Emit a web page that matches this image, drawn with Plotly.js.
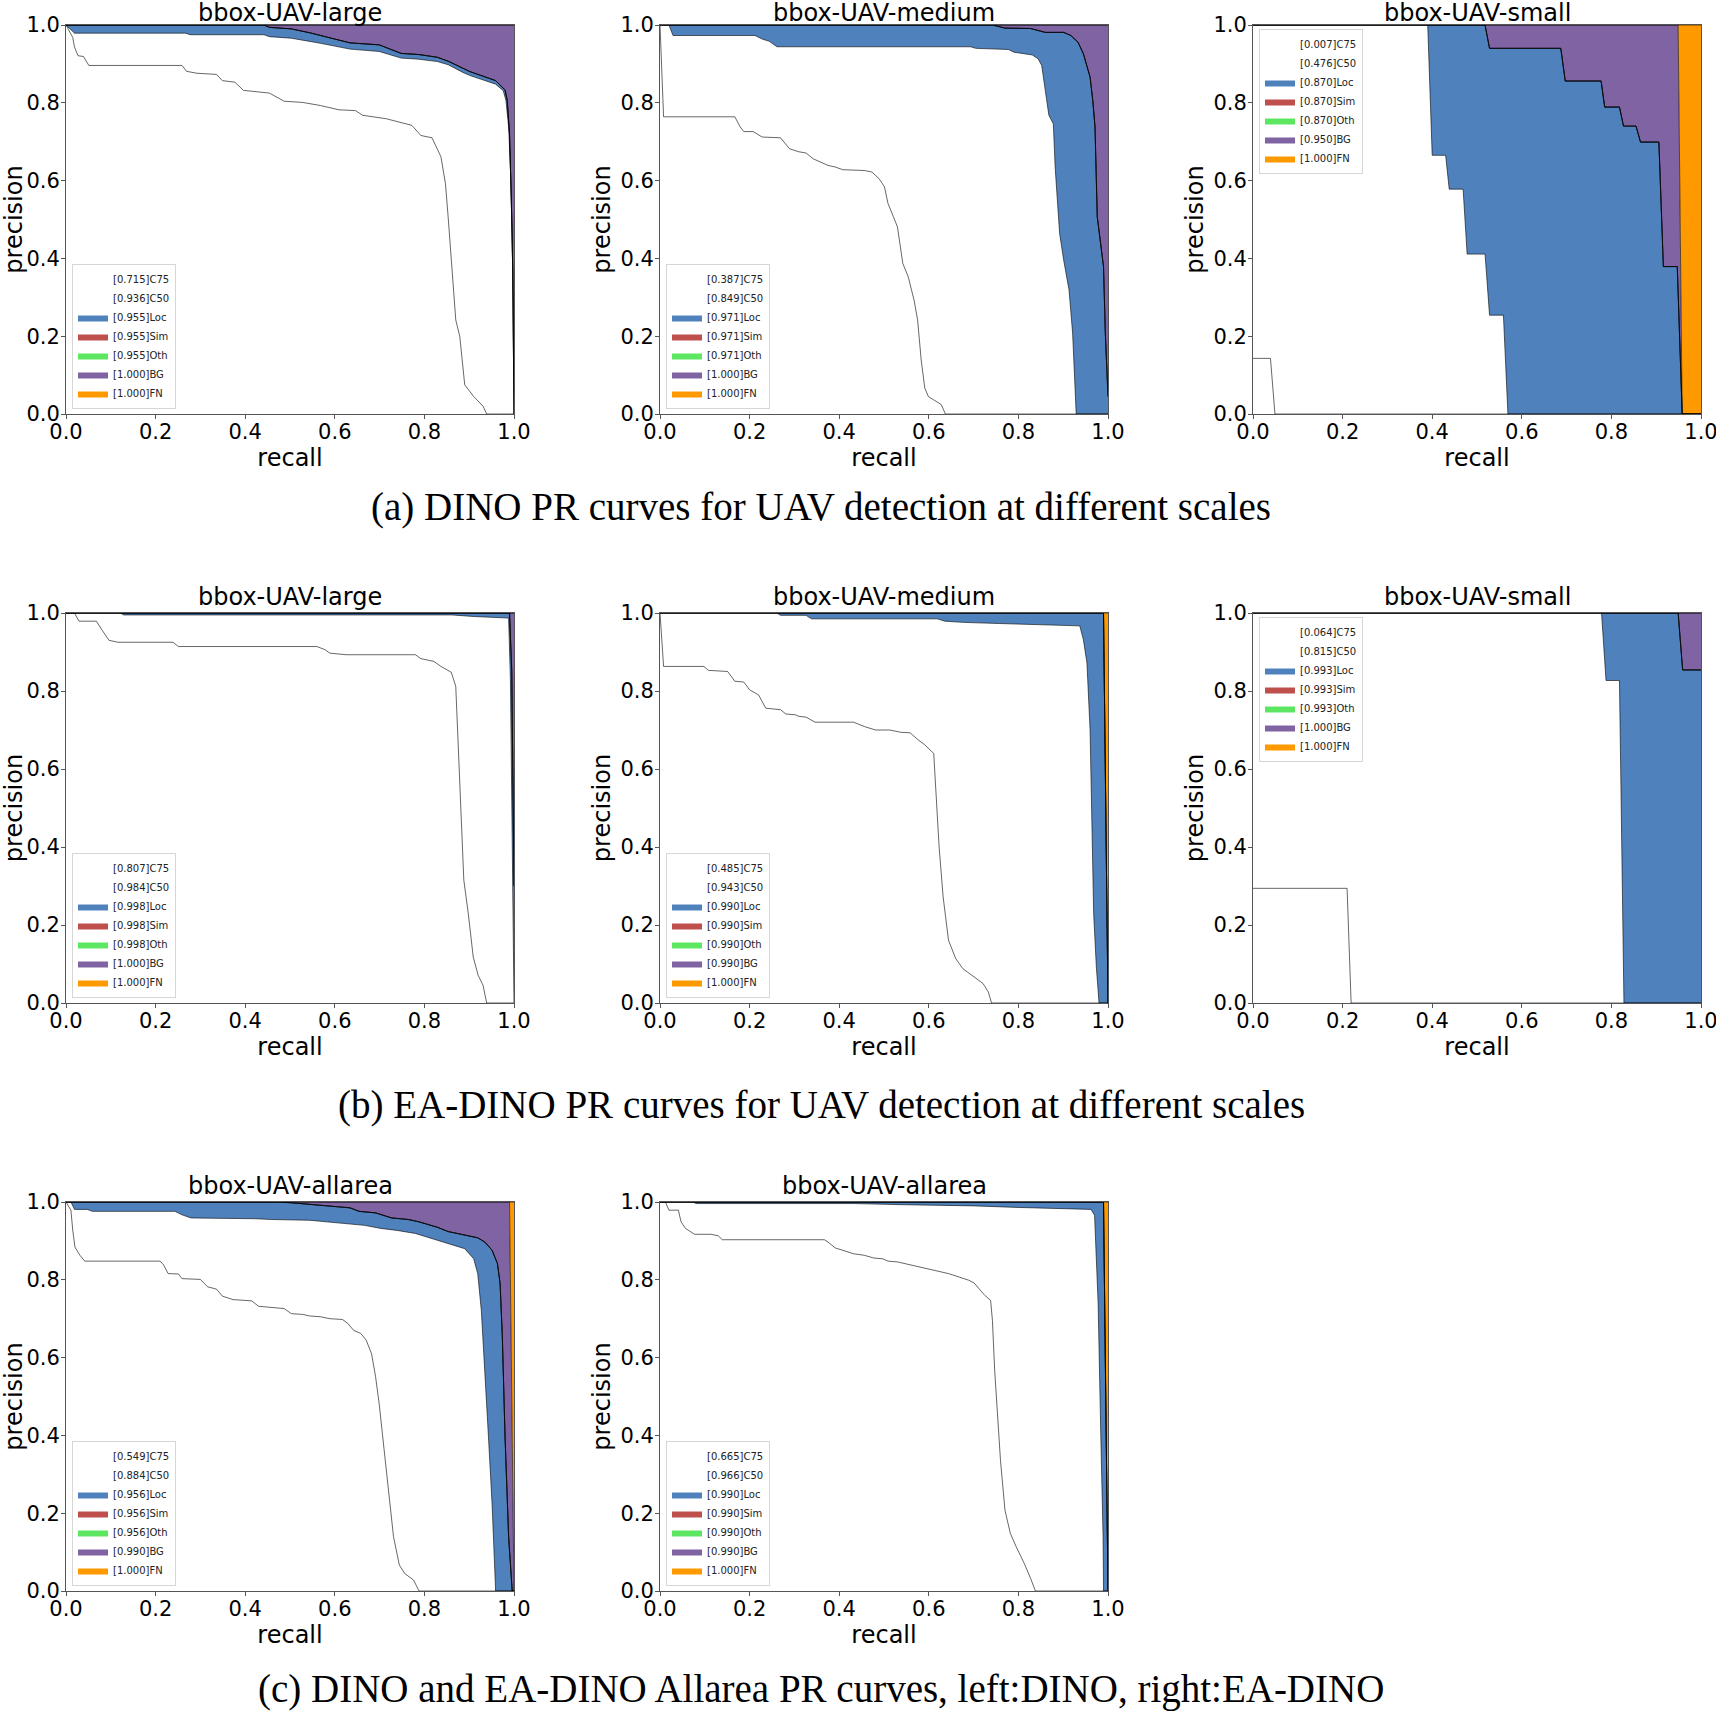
<!DOCTYPE html>
<html><head><meta charset="utf-8">
<script src="https://cdn.plot.ly/plotly-3.0.1.min.js"></script>
<style>html,body{margin:0;padding:0;background:#fff}#chart{width:1716px;height:1711px}</style>
</head><body><div id="chart"></div>
<script>
// ---------- DATA ----------
const typeNames = ['C75','C50','Loc','Sim','Oth','BG','FN'];
const xTicks = [0,0.2,0.4,0.6,0.8,1.0];
const xTickText = ['0.0','0.2','0.4','0.6','0.8','1.0'];
const flatX = [0,1.0];
const flatY = [1.0,1.0];

// (a) DINO large
const aL_AP = [0.715,0.936,0.955,0.955,0.955,1.000,1.000];
const aL_C75_x = [0,0.015,0.019,0.027,0.039,0.051,0.259,0.269,0.292,0.336,0.349,0.377,0.396,0.454,0.487,0.528,0.568,0.609,0.646,0.662,0.715,0.756,0.772,0.792,0.817,0.837,0.847,0.853,0.862,0.870,0.879,0.890,0.910,0.931,0.939,1.0];
const aL_C75_y = [1.0,0.968,0.943,0.921,0.919,0.896,0.896,0.881,0.876,0.873,0.857,0.853,0.832,0.825,0.804,0.801,0.793,0.782,0.780,0.768,0.759,0.748,0.742,0.716,0.710,0.661,0.592,0.507,0.379,0.242,0.199,0.075,0.045,0.020,0.0,0.0];
const aL_C50_x = [0,0.019,0.267,0.277,0.442,0.454,0.503,0.544,0.568,0.634,0.699,0.748,0.788,0.829,0.853,0.886,0.902,0.959,0.976,0.982,0.988,0.992,0.996,0.998,1.0];
const aL_C50_y = [1.0,0.979,0.979,0.975,0.975,0.970,0.966,0.958,0.953,0.938,0.932,0.915,0.912,0.906,0.898,0.878,0.870,0.848,0.831,0.806,0.738,0.635,0.464,0.293,0.0];
const aL_Loc_x = [0,0.442,0.454,0.503,0.544,0.568,0.634,0.699,0.748,0.788,0.829,0.853,0.902,0.959,0.980,0.985,0.990,0.994,0.997,1.0];
const aL_Loc_y = [1.0,1.0,0.994,0.990,0.980,0.973,0.954,0.949,0.927,0.924,0.917,0.907,0.880,0.857,0.833,0.806,0.720,0.550,0.379,0.0];

// (a) DINO medium
const aM_AP = [0.387,0.849,0.971,0.971,0.971,1.000,1.000];
const aM_C75_x = [0,0.008,0.167,0.179,0.187,0.208,0.228,0.269,0.289,0.310,0.326,0.342,0.375,0.391,0.408,0.456,0.473,0.489,0.501,0.509,0.521,0.530,0.542,0.554,0.567,0.575,0.583,0.591,0.599,0.611,0.628,0.637,1.0];
const aM_C75_y = [1.0,0.764,0.764,0.738,0.726,0.726,0.712,0.710,0.682,0.674,0.671,0.656,0.639,0.635,0.628,0.626,0.622,0.605,0.584,0.541,0.507,0.481,0.387,0.353,0.293,0.242,0.139,0.067,0.045,0.037,0.024,0.0,0.0];
const aM_C50_x = [0,0.020,0.029,0.212,0.228,0.244,0.261,0.693,0.705,0.778,0.790,0.831,0.844,0.852,0.860,0.868,0.878,0.882,0.892,0.901,0.913,0.921,0.929,1.0];
const aM_C50_y = [1.0,1.0,0.973,0.973,0.964,0.958,0.944,0.944,0.940,0.937,0.930,0.923,0.913,0.896,0.832,0.768,0.746,0.635,0.464,0.396,0.319,0.208,0.0,0.0];
const aM_Loc_x = [0,0.742,0.770,0.827,0.860,0.901,0.917,0.933,0.945,0.960,0.966,0.971,0.976,0.986,0.990,0.994,1.0];
const aM_Loc_y = [1.0,1.0,0.992,0.991,0.981,0.981,0.973,0.956,0.926,0.866,0.806,0.738,0.507,0.421,0.379,0.208,0.045];

// (a) DINO small
const aS_AP = [0.007,0.476,0.870,0.870,0.870,0.950,1.000];
const aS_C75_x = [0,0.039,0.049,1.0];
const aS_C75_y = [0.143,0.143,0.0,0.0];
const aS_C50_x = [0,0.390,0.400,0.430,0.438,0.469,0.478,0.518,0.528,0.559,0.569,1.0];
const aS_C50_y = [1.0,1.0,0.665,0.665,0.578,0.578,0.411,0.411,0.254,0.254,0.0,0.0];
const aS_Loc_x = [0,0.518,0.528,0.687,0.697,0.777,0.785,0.818,0.827,0.855,0.865,0.906,0.916,0.947,0.958,1.0];
const aS_Loc_y = [1.0,1.0,0.940,0.940,0.856,0.856,0.789,0.789,0.740,0.740,0.699,0.699,0.379,0.379,0.0,0.0];
const aS_BG_x = [0,0.949,0.958,1.0];
const aS_BG_y = [1.0,1.0,0.0,0.0];

// (b) EA-DINO large
const bL_AP = [0.807,0.984,0.998,0.998,0.998,1.000,1.000];
const bL_C75_x = [0,0.019,0.029,0.068,0.080,0.096,0.116,0.239,0.251,0.560,0.578,0.589,0.625,0.780,0.792,0.821,0.837,0.860,0.870,0.874,0.879,0.888,0.898,0.909,0.920,0.931,0.939,1.0];
const bL_C75_y = [1.0,1.0,0.979,0.979,0.957,0.930,0.925,0.925,0.914,0.914,0.906,0.897,0.893,0.893,0.883,0.876,0.863,0.848,0.812,0.700,0.529,0.315,0.229,0.118,0.071,0.045,0.0,0.0];
const bL_C50_x = [0,0.121,0.129,0.862,0.910,0.988,0.992,0.996,0.998,1.0];
const bL_C50_y = [1.0,1.0,0.995,0.995,0.991,0.987,0.829,0.486,0.229,0.0];
const bL_Loc_x = [0,0.990,0.995,0.998,1.0];
const bL_Loc_y = [1.0,1.0,0.85,0.6,0.3];

// (b) EA-DINO medium
const bM_AP = [0.485,0.943,0.990,0.990,0.990,0.990,1.000];
const bM_C75_x = [0,0.008,0.098,0.108,0.151,0.167,0.187,0.200,0.220,0.236,0.269,0.281,0.302,0.310,0.326,0.346,0.432,0.456,0.481,0.513,0.538,0.558,0.575,0.591,0.611,0.615,0.623,0.632,0.644,0.660,0.676,0.701,0.721,0.733,0.740,1.0];
const bM_C75_y = [1.0,0.863,0.863,0.853,0.850,0.825,0.823,0.803,0.790,0.756,0.752,0.741,0.739,0.735,0.733,0.720,0.720,0.709,0.700,0.700,0.694,0.693,0.676,0.662,0.640,0.555,0.401,0.272,0.161,0.114,0.088,0.067,0.050,0.028,0.0,0.0];
const bM_C50_x = [0,0.261,0.269,0.326,0.338,0.619,0.636,0.676,0.758,0.848,0.937,0.945,0.953,0.960,0.963,0.968,0.974,0.980,1.0];
const bM_C50_y = [1.0,1.0,0.994,0.994,0.985,0.985,0.979,0.976,0.973,0.970,0.967,0.932,0.872,0.700,0.486,0.229,0.092,0.0,0.0];
const bM_Loc_x = [0,0.990,1.0];
const bM_Loc_y = [1.0,1.0,0.0];

// (b) EA-DINO small
const bS_AP = [0.064,0.815,0.993,0.993,0.993,1.000,1.000];
const bS_C75_x = [0,0.210,0.219,1.0];
const bS_C75_y = [0.294,0.294,0.0,0.0];
const bS_C50_x = [0,0.778,0.788,0.818,0.828,1.0];
const bS_C50_y = [1.0,1.0,0.827,0.827,0.0,0.0];
const bS_Loc_x = [0,0.949,0.959,1.0];
const bS_Loc_y = [1.0,1.0,0.854,0.854];

// (c) left: DINO allarea
const cD_AP = [0.549,0.884,0.956,0.956,0.956,0.990,1.000];
const cD_C75_x = [0,0.011,0.015,0.020,0.031,0.042,0.210,0.218,0.228,0.251,0.259,0.300,0.316,0.336,0.349,0.373,0.414,0.430,0.487,0.503,0.528,0.544,0.568,0.589,0.617,0.629,0.642,0.658,0.670,0.682,0.691,0.699,0.707,0.719,0.731,0.744,0.756,0.776,0.788,1.0];
const cD_C75_y = [1.0,0.979,0.928,0.884,0.863,0.848,0.848,0.838,0.816,0.815,0.803,0.801,0.782,0.776,0.758,0.749,0.746,0.732,0.726,0.713,0.711,0.707,0.705,0.700,0.698,0.688,0.670,0.662,0.645,0.610,0.551,0.482,0.396,0.259,0.140,0.067,0.045,0.028,0.0,0.0];
const cD_C50_x = [0,0.011,0.019,0.047,0.059,0.243,0.259,0.279,0.422,0.459,0.544,0.577,0.634,0.666,0.703,0.739,0.780,0.817,0.841,0.866,0.890,0.910,0.919,0.927,0.935,0.943,0.951,0.959,1.0];
const cD_C50_y = [1.0,1.0,0.981,0.981,0.976,0.976,0.967,0.959,0.957,0.955,0.953,0.949,0.943,0.940,0.932,0.927,0.919,0.906,0.897,0.889,0.880,0.854,0.816,0.722,0.568,0.396,0.225,0.0,0.0];
const cD_Loc_x = [0,0.475,0.503,0.585,0.634,0.654,0.691,0.727,0.764,0.788,0.829,0.853,0.886,0.919,0.935,0.951,0.963,0.969,0.974,0.980,0.988,0.996,1.0];
const cD_Loc_y = [1.0,1.0,0.998,0.991,0.985,0.976,0.972,0.959,0.955,0.949,0.935,0.924,0.916,0.908,0.897,0.876,0.842,0.790,0.653,0.396,0.140,0.0,0.0];
const cD_BG_x = [0,0.990,1.0];
const cD_BG_y = [1.0,1.0,0.0];

// (c) right: EA-DINO allarea
const cE_AP = [0.665,0.966,0.990,0.990,0.990,0.990,1.000];
const cE_C75_x = [0,0.012,0.020,0.041,0.047,0.057,0.077,0.114,0.130,0.139,0.367,0.375,0.391,0.416,0.432,0.456,0.477,0.497,0.509,0.530,0.546,0.570,0.595,0.619,0.644,0.668,0.689,0.701,0.713,0.725,0.738,0.742,0.747,0.754,0.760,0.770,0.782,0.795,0.813,0.827,0.838,1.0];
const cE_C75_y = [1.0,1.0,0.979,0.979,0.949,0.932,0.917,0.917,0.913,0.903,0.903,0.897,0.882,0.874,0.867,0.863,0.856,0.854,0.848,0.846,0.842,0.835,0.829,0.823,0.816,0.807,0.799,0.792,0.777,0.760,0.747,0.696,0.568,0.431,0.336,0.208,0.148,0.114,0.071,0.033,0.0,0.0];
const cE_C50_x = [0,0.073,0.081,0.432,0.546,0.701,0.799,0.962,0.970,0.978,0.984,0.989,0.990,1.0];
const cE_C50_y = [1.0,1.0,0.996,0.996,0.993,0.990,0.986,0.981,0.966,0.739,0.396,0.140,0.0,0.0];
const cE_Loc_x = [0,0.990,1.0];
const cE_Loc_y = [1.0,1.0,0.0];

const captions = [
  '(a) DINO PR curves for UAV detection at different scales',
  '(b) EA-DINO PR curves for UAV detection at different scales',
  '(c) DINO and EA-DINO Allarea PR curves, left:DINO, right:EA-DINO'
];

// ---------- STYLE / LAYOUT ----------
const W = 1716, H = 1711;
const fillColors = ['#ffffff','#ffffff','#4f82bd','#bf4f4d','#5ce661','#8063a3','#ff9900'];
const colsPx = [[66,514],[660,1108],[1253,1701]];
const rowsPx = [[25,414],[613,1003],[1202,1591]];
const titleShift = [-4, 0, 0];
const captionY = [507,1105,1689];
const FONT = 'DejaVu Sans';

// curves per panel: C75, C50, Loc, Sim, Oth, BG, FN
const panels = [
  {title:'bbox-UAV-large', col:0,row:0, ap:aL_AP, leg:'bottom',
   curves:[[aL_C75_x,aL_C75_y],[aL_C50_x,aL_C50_y],[aL_Loc_x,aL_Loc_y],[aL_Loc_x,aL_Loc_y],[aL_Loc_x,aL_Loc_y],[flatX,flatY],[flatX,flatY]]},
  {title:'bbox-UAV-medium', col:1,row:0, ap:aM_AP, leg:'bottom',
   curves:[[aM_C75_x,aM_C75_y],[aM_C50_x,aM_C50_y],[aM_Loc_x,aM_Loc_y],[aM_Loc_x,aM_Loc_y],[aM_Loc_x,aM_Loc_y],[flatX,flatY],[flatX,flatY]]},
  {title:'bbox-UAV-small', col:2,row:0, ap:aS_AP, leg:'top',
   curves:[[aS_C75_x,aS_C75_y],[aS_C50_x,aS_C50_y],[aS_Loc_x,aS_Loc_y],[aS_Loc_x,aS_Loc_y],[aS_Loc_x,aS_Loc_y],[aS_BG_x,aS_BG_y],[flatX,flatY]]},
  {title:'bbox-UAV-large', col:0,row:1, ap:bL_AP, leg:'bottom',
   curves:[[bL_C75_x,bL_C75_y],[bL_C50_x,bL_C50_y],[bL_Loc_x,bL_Loc_y],[bL_Loc_x,bL_Loc_y],[bL_Loc_x,bL_Loc_y],[flatX,flatY],[flatX,flatY]]},
  {title:'bbox-UAV-medium', col:1,row:1, ap:bM_AP, leg:'bottom',
   curves:[[bM_C75_x,bM_C75_y],[bM_C50_x,bM_C50_y],[bM_Loc_x,bM_Loc_y],[bM_Loc_x,bM_Loc_y],[bM_Loc_x,bM_Loc_y],[bM_Loc_x,bM_Loc_y],[flatX,flatY]]},
  {title:'bbox-UAV-small', col:2,row:1, ap:bS_AP, leg:'top',
   curves:[[bS_C75_x,bS_C75_y],[bS_C50_x,bS_C50_y],[bS_Loc_x,bS_Loc_y],[bS_Loc_x,bS_Loc_y],[bS_Loc_x,bS_Loc_y],[flatX,flatY],[flatX,flatY]]},
  {title:'bbox-UAV-allarea', col:0,row:2, ap:cD_AP, leg:'bottom',
   curves:[[cD_C75_x,cD_C75_y],[cD_C50_x,cD_C50_y],[cD_Loc_x,cD_Loc_y],[cD_Loc_x,cD_Loc_y],[cD_Loc_x,cD_Loc_y],[cD_BG_x,cD_BG_y],[flatX,flatY]]},
  {title:'bbox-UAV-allarea', col:1,row:2, ap:cE_AP, leg:'bottom',
   curves:[[cE_C75_x,cE_C75_y],[cE_C50_x,cE_C50_y],[cE_Loc_x,cE_Loc_y],[cE_Loc_x,cE_Loc_y],[cE_Loc_x,cE_Loc_y],[cE_Loc_x,cE_Loc_y],[flatX,flatY]]}
];

const data = [];
const layout = {
  width: W, height: H,
  margin: {l:0,r:0,t:0,b:0,pad:0},
  paper_bgcolor: '#ffffff', plot_bgcolor: '#ffffff',
  font: {family: FONT, color: '#000'},
  showlegend: true,
  annotations: [],
  hovermode: false
};

panels.forEach((p, i) => {
  const n = i + 1;
  const sfx = n === 1 ? '' : String(n);
  const xa = 'x' + sfx, ya = 'y' + sfx;
  const legId = 'legend' + sfx;
  const [x0, x1] = colsPx[p.col];
  const [y0, y1] = rowsPx[p.row];

  // fills (carry the legend)
  p.curves.forEach((c, k) => {
    data.push({
      type: 'scatter', mode: 'lines', x: c[0], y: c[1],
      xaxis: xa, yaxis: ya,
      line: {width: 0, color: fillColors[k]},
      fill: k === 0 ? 'tozeroy' : 'tonexty',
      fillcolor: fillColors[k],
      name: '[' + p.ap[k].toFixed(3) + ']' + typeNames[k],
      legend: legId, hoverinfo: 'skip'
    });
  });
  // black boundary lines
  p.curves.forEach((c, k) => {
    data.push({
      type: 'scatter', mode: 'lines', x: c[0], y: c[1],
      xaxis: xa, yaxis: ya,
      line: {width: 0.6, color: '#000'},
      showlegend: false, hoverinfo: 'skip'
    });
  });

  const axCommon = {
    range: [0, 1], tickvals: xTicks, ticktext: xTickText,
    ticks: 'outside', ticklen: 4, tickwidth: 1, tickcolor: '#555',
    showline: true, linecolor: '#555', linewidth: 1, mirror: true,
    showgrid: false, zeroline: false, automargin: false, fixedrange: true,
    ticklabeloverflow: 'allow',
    tickfont: {family: FONT, size: 21, color: '#000'}
  };
  layout['xaxis' + sfx] = Object.assign({}, axCommon, {
    domain: [x0 / W, x1 / W], anchor: ya, ticklabelstandoff: -5,
    title: {text: 'recall', font: {family: FONT, size: 24, color: '#000'}, standoff: 0}
  });
  layout['yaxis' + sfx] = Object.assign({}, axCommon, {
    domain: [1 - y1 / H, 1 - y0 / H], anchor: xa, ticklabelstandoff: -3,
    title: {text: 'precision', font: {family: FONT, size: 24, color: '#000'}, standoff: 2}
  });

  const legBase = {
    x: (x0 + 6) / W, xanchor: 'left',
    bgcolor: 'rgba(255,255,255,0.8)', bordercolor: '#d6d6d6', borderwidth: 1,
    font: {family: FONT, size: 10, color: '#222'},
    traceorder: 'normal', itemclick: false, itemdoubleclick: false
  };
  if (p.leg === 'bottom') {
    layout[legId] = Object.assign(legBase, {y: 1 - (y1 - 5) / H, yanchor: 'bottom'});
  } else {
    layout[legId] = Object.assign(legBase, {y: 1 - (y0 + 4) / H, yanchor: 'top'});
  }

  layout.annotations.push({
    text: p.title, xref: 'paper', yref: 'paper',
    x: (x0 + x1) / 2 / W, y: 1 - y0 / H, xanchor: 'center', yanchor: 'bottom',
    yshift: titleShift[p.row], showarrow: false,
    font: {family: FONT, size: 24, color: '#000'}
  });
});

captions.forEach((t, i) => {
  layout.annotations.push({
    text: t, xref: 'paper', yref: 'paper',
    x: 821 / W, y: 1 - captionY[i] / H, xanchor: 'center', yanchor: 'middle',
    showarrow: false,
    font: {family: 'Liberation Serif', size: 39, color: '#000'}
  });
});

Plotly.newPlot('chart', data, layout, {staticPlot: true, displayModeBar: false});
</script>
</body></html>
